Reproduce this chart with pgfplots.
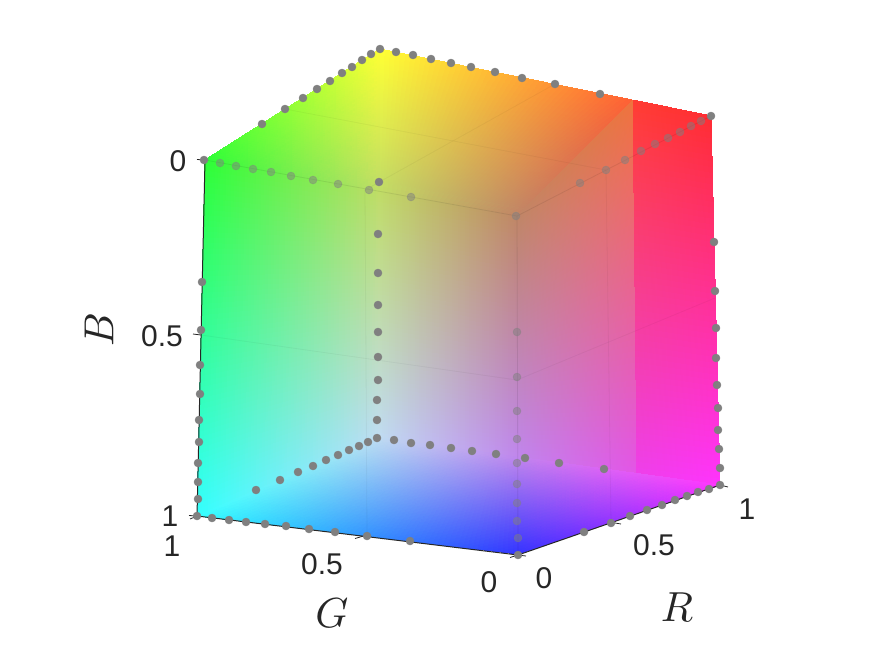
\documentclass[border=0pt]{standalone}
\usepackage{fontspec}
\setmainfont{Liberation Sans}
\usepackage{pgfplots}
\pgfplotsset{compat=1.18}
\usepgfplotslibrary{patchplots}
\definecolor{dots}{RGB}{128,128,128}
\definecolor{ax}{RGB}{38,38,38}
\begin{document}
\begin{tikzpicture}[x=1pt,y=1pt]
\path[use as bounding box] (0,0) rectangle (875,656);
\begin{axis}[at={(0,0)},anchor=south west,width=875pt,height=656pt,scale only axis,
  xmin=0,xmax=875,ymin=0,ymax=656,y dir=reverse,hide axis,clip=false]
% the cube seen through its translucent walls: each patch has the blended colour at its corners
\addplot[patch,patch type=bilinear,shader=interp,mesh/color input=explicit] table[meta=c,row sep=\\]{
x y c\\
205 160 .176,1,.216\\ 379 191 .753,.863,.404\\ 378 437 .753,.863,.949\\ 197 516 .204,1,1\\
380 49 1,1,.204\\ 711 116 1,.176,.204\\ 517 216 .753,.525,.404\\ 379 191 .753,.863,.404\\
379 191 .753,.863,.404\\ 517 216 .753,.525,.404\\ 517.5 457 .753,.525,.929\\ 378 437 .753,.863,.949\\
517 216 .753,.525,.404\\ 633 100 .94,.45,.24\\ 637 474 .89,.33,.91\\ 517.5 457 .753,.525,.929\\
633 100 1,.24,.2\\ 711 116 1,.176,.204\\ 720 485 1,.2,1\\ 637 474 .93,.25,.92\\
197 516 .204,1,1\\ 378 437 .753,.863,.949\\ 517.5 457 .753,.525,.929\\ 518 554 .204,.204,1\\
};
\addplot[patch,shader=interp,mesh/color input=explicit] table[meta=c,row sep=\\]{
x y c\\
205 160 .176,1,.216\\ 380 49 1,1,.204\\ 379 191 .753,.863,.404\\
517.5 457 .753,.525,.929\\ 720 485 1,.204,1\\ 518 554 .204,.204,1\\
};
% grid and box on the far faces
\addplot[black,opacity=0.08,line width=0.8pt] coordinates {(205,160)(517,216)(711,116)};
\addplot[black,opacity=0.08,line width=0.8pt] coordinates {(517,216)(518,554)};
\addplot[black,opacity=0.04,line width=0.8pt] coordinates {(201,335)(517,380)(715,298)};
\addplot[black,opacity=0.04,line width=0.8pt] coordinates {(365,190)(367,536)};
\addplot[black,opacity=0.04,line width=0.8pt] coordinates {(606,170)(611,523)};
\addplot[black,opacity=0.04,line width=0.8pt] coordinates {(365,190)(555,84)};
\addplot[black,opacity=0.04,line width=0.8pt] coordinates {(285,109)(606,170)};
% dots on the far edges
\addplot[only marks,mark=*,mark size=4pt,dots,opacity=0.5,mark options={fill=dots,draw=none}] coordinates {
(220,163)(236,166)(253,169)(271,172)(291,176)(313,180)(338,184)(369,190)(411,197)(516,216)
(701,121)(691,126)(680,132)(668,138)(655,144)(641,151)(625,160)(606,170)(580,183)
(517,332)(517,377)(517,411)(517,439)(517,463)(517,484)(517,503)(517,521)(518,538)
};
% axis lines and ticks
\addplot[ax,line width=1pt] coordinates {(205,160)(197,516)(518,555)(720,485)};
\addplot[ax,line width=0.8pt] coordinates {(197,159.5)(205,160)};
\addplot[ax,line width=0.8pt] coordinates {(193,334)(201,335)};
\addplot[ax,line width=0.8pt] coordinates {(189,515.5)(197,516)};
\addplot[ax,line width=0.8pt] coordinates {(190,519)(197,516)};
\addplot[ax,line width=0.8pt] coordinates {(355,538.5)(367,535)};
\addplot[ax,line width=0.8pt] coordinates {(510,557.5)(518,555)};
\addplot[ax,line width=0.8pt] coordinates {(518,555)(526,556)};
\addplot[ax,line width=0.8pt] coordinates {(612,522.5)(621,524)};
\addplot[ax,line width=0.8pt] coordinates {(720,485)(728,487)};
% dots on the silhouette and near edges
\addplot[only marks,mark=*,mark size=4pt,dots,mark options={fill=dots,draw=none}] coordinates {
(204,160)(262,124)(285,109)(303,98)(317,89)(330,81)(342,73)(352,67)(362,60)(371,54)(380,49)
(396,52)(413,55)(431,59)(451,63)(471,67)(495,72)(522,78)(555,84)(600,94)(711,116)
(379,182)(378,234)(378,273)(378,305)(378,332)(378,357)(378,380)(377,400)(377,420)(377,438)
(368,442)(359,446)(349,450)(338,455)(326,460)(313,466)(298,472)(280,480)(256,490)
(394,440)(411,443)(430,445)(451,448)(472,451)(496,454)(525,458)(559,463)(604,469)
(714,242)(715,291)(716,328)(716,358)(717,385)(718,408)(718,430)(719,449)(720,468)(720,485)
(202,282)(201,330)(200,365)(200,394)(199,420)(199,442)(198,463)(198,482)(198,499)(197,516)
(212,518)(229,520)(246,522)(265,524)(286,526)(309,529)(335,532)(367,536)(410,541)(518,555)
(584,532)(611,523)(630,516)(647,510)(662,505)(675,500)(687,496)(698,492)(709,489)
};
% tick labels and axis labels
\tikzset{tl/.style={font=\fontsize{30}{30}\selectfont,text=ax,inner sep=0pt},
         al/.style={scale=4.2,text=ax,inner sep=0pt}}
\node[tl] at (axis cs:178,161) {0};
\node[tl] at (axis cs:162,336) {0.5};
\node[tl] at (axis cs:170,516) {1};
\node[tl] at (axis cs:172,546) {1};
\node[tl] at (axis cs:322,564) {0.5};
\node[tl] at (axis cs:489,582) {0};
\node[tl] at (axis cs:544,578) {0};
\node[tl] at (axis cs:654,545) {0.5};
\node[tl] at (axis cs:747,509) {1};
\node[al,rotate=90] at (axis cs:99,330) {$B$};
\node[al] at (axis cs:332,613) {$G$};
\node[al] at (axis cs:677,607) {$R$};
\end{axis}
\end{tikzpicture}
\end{document}
